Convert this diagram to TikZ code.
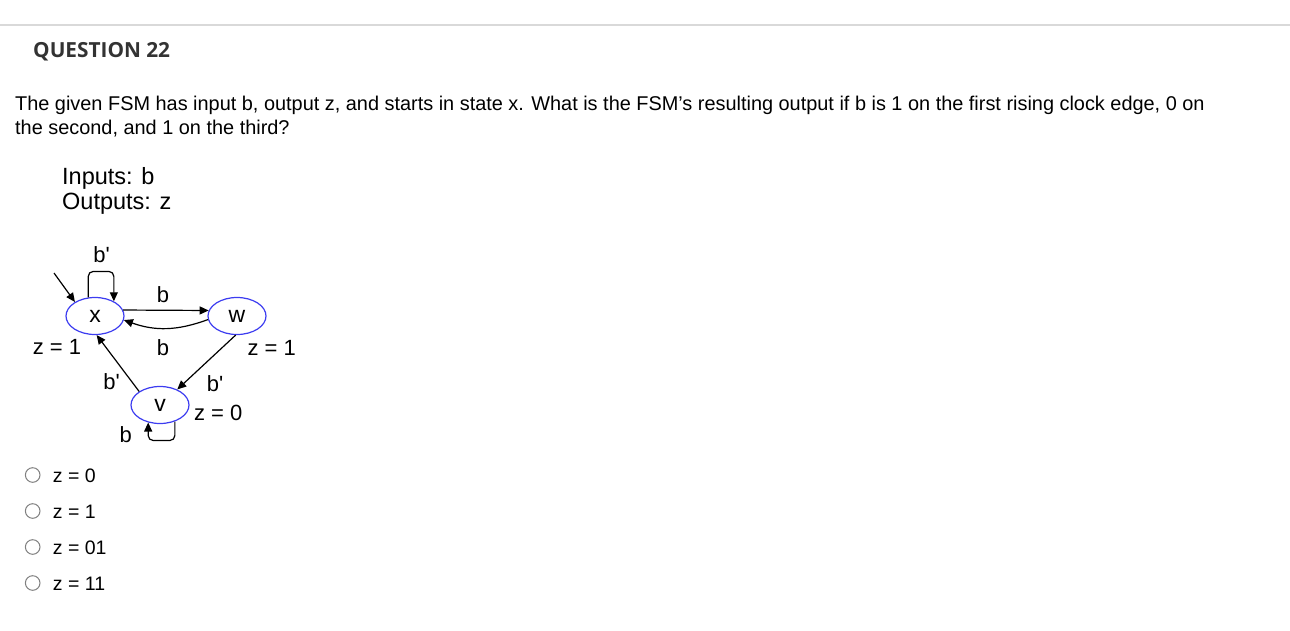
\documentclass[tikz,border=0pt]{standalone}
\usepackage{fontspec}
\setmainfont{Liberation Sans}
\newfontfamily\headfont{Open Sans}
\usetikzlibrary{arrows.meta, shapes.geometric}
\definecolor{stateblue}{RGB}{60,60,240}
\newcommand{\bprime}{b\textquotesingle}

\begin{document}
\begin{tikzpicture}[x=1pt, y=-1pt,
        state/.style={ellipse, draw=stateblue, line width=1.2pt, minimum width=58pt, minimum height=37pt, inner sep=0pt, font=\fontsize{23}{23}\selectfont},
        lbl/.style={inner sep=0pt, font=\fontsize{22}{22}\selectfont},
        trans/.style={-{Triangle[length=9pt,width=8pt]}, line width=1.2pt},
        body/.style={inner sep=0pt, anchor=base west, font=\fontsize{19.9}{22}\selectfont},
        answer/.style={inner sep=0pt, anchor=base west, font=\fontsize{19.5}{20}\selectfont},
        radio/.style={circle, draw=black!50, line width=1pt, minimum size=14.6pt, inner sep=0pt}]
        \useasboundingbox (0,0) rectangle (1290,631);
        
        \draw[black!15, line width=1.2pt] (0,25) -- (1290,25);
        \node[inner sep=0pt, anchor=base west, text=black!80, font=\headfont\bfseries\fontsize{20.8}{22}\selectfont] (qtitle) at (33,57.5) {QUESTION 22};
        \node[body] (line1) at (15,111) {The given FSM has input b, output z, and starts in state x. What is the FSM's resulting output if b is 1 on the first rising clock edge, 0 on};
        \node[body] (line2) at (15,135) {the second, and 1 on the third?};
        
        \node[lbl, anchor=base west, font=\fontsize{23.5}{24}\selectfont] (inputs) at (62,185) {Inputs: b};
        \node[lbl, anchor=base west, font=\fontsize{23.5}{24}\selectfont] (outputs) at (62,210) {Outputs: z};
        
        \node[state] (x) at (95,316) {x};
        \node[state] (w) at (237,316) {w};
        \node[state] (v) at (160,405) {v};
        \coordinate (start) at (54,273);
        
        \draw[trans] (start) -- (x.145);
        \draw[trans, rounded corners=5pt] (x.110) -- ++(0,-26) -| (x.38);
        \draw[trans] (x.12) -- (w.169);
        \draw[trans] (w.187) to[bend left=20] (x.352);
        \draw[trans] (w.266) -- (v.42);
        \draw[trans] (v.147) -- (x.275);
        \draw[trans, rounded corners=5pt] (v.312) -- ++(0,19) -| (v.236);
        
        \node[lbl] (lxx) at (101.7,255) {\bprime};
        \node[lbl] (lxw) at (163,295) {b};
        \node[lbl] (lwx) at (163,348) {b};
        \node[lbl] (zx) at (57,347) {z = 1};
        \node[lbl] (zw) at (271.7,348) {z = 1};
        \node[lbl] (lvx) at (111.7,382) {\bprime};
        \node[lbl] (lwv) at (215,384) {\bprime};
        \node[lbl] (zv) at (218.3,413.3) {z = 0};
        \node[lbl] (lvv) at (125.8,435) {b};
        
        \node[radio] (r1) at (32.7,475) {};
        \node[answer] (a1) at (52.7,482) {z = 0};
        \node[radio] (r2) at (32.7,511) {};
        \node[answer] (a2) at (52.7,518) {z = 1};
        \node[radio] (r3) at (32.7,547) {};
        \node[answer] (a3) at (52.7,554) {z = 01};
        \node[radio] (r4) at (32.7,583) {};
        \node[answer] (a4) at (52.7,590) {z = 11};
        
    \end{tikzpicture}
\end{document}
